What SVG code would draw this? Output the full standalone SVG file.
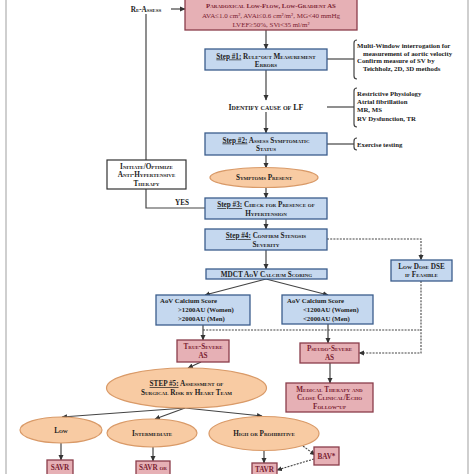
<svg xmlns="http://www.w3.org/2000/svg" width="474" height="474" viewBox="0 0 474 474">
<defs>
<marker id="ah" markerWidth="6" markerHeight="6" refX="5" refY="3" orient="auto" markerUnits="userSpaceOnUse">
<path d="M0,0.5 L5.5,3 L0,5.5 Z" fill="#333"/>
</marker>
<style>
.ln{stroke:#444;stroke-width:1.2;fill:none}
.ds{stroke:#444;stroke-width:1.1;fill:none;stroke-dasharray:2,1.2}
.pink{fill:#e6b0b5;stroke:#8a3d4b;stroke-width:1.3}
.blue{fill:#c5d8ef;stroke:#3b5d8c;stroke-width:1.3}
.wht{fill:#fff;stroke:#333;stroke-width:1.2}
.pe{fill:#f8cba3;stroke:#d99a68;stroke-width:1.2}
text{font-family:"Liberation Serif","Times New Roman",serif;font-weight:bold;fill:#222}
.sc{font-variant:small-caps;font-size:7.2px}
.c{text-anchor:middle}
.u{text-decoration:underline}
.note{font-size:6.8px}
.red{fill:#7a2232}
.reg{font-weight:normal;font-size:7px}
</style>
</defs>
<rect x="6" y="-10" width="462" height="500" fill="#fff" stroke="#cfcfcf" stroke-width="2"/>

<g id="connectors">
<line class="ln" x1="171" y1="9" x2="185" y2="9" marker-end="url(#ah)"/>
<line class="ln" x1="146" y1="14" x2="146" y2="160"/>
<polyline class="ln" points="146,189 146,208 205,208"/>
<line class="ln" x1="266" y1="30" x2="266" y2="49" marker-end="url(#ah)"/>
<line class="ln" x1="266" y1="70" x2="266" y2="100" marker-end="url(#ah)"/>
<line class="ln" x1="266" y1="112" x2="266" y2="133" marker-end="url(#ah)"/>
<line class="ln" x1="327" y1="59" x2="354" y2="59"/>
<line class="ln" x1="327" y1="107" x2="354" y2="107"/>
<line class="ln" x1="327" y1="144" x2="354" y2="144"/>
<path class="ln" d="M357,40 Q354,40 354,43 L354,76 Q354,79 357,79"/>
<path class="ln" d="M357,88 Q354,88 354,91 L354,124 Q354,127 357,127"/>
<path class="ln" d="M357,138 Q354,138 354,141 L354,147 Q354,150 357,150"/>
<line class="ln" x1="266" y1="155" x2="266" y2="168" marker-end="url(#ah)"/>
<line class="ln" x1="266" y1="187" x2="266" y2="198" marker-end="url(#ah)"/>
<line class="ln" x1="266" y1="219" x2="266" y2="229" marker-end="url(#ah)"/>
<line class="ln" x1="266" y1="250" x2="266" y2="269" marker-end="url(#ah)"/>
<line class="ln" x1="266" y1="279" x2="205" y2="295" marker-end="url(#ah)"/>
<line class="ln" x1="266" y1="279" x2="328" y2="295" marker-end="url(#ah)"/>
<line class="ln" x1="203" y1="325" x2="203" y2="340" marker-end="url(#ah)"/>
<line class="ln" x1="328" y1="324" x2="328" y2="343" marker-end="url(#ah)"/>
<line class="ln" x1="330" y1="363" x2="330" y2="383" marker-end="url(#ah)"/>
<line class="ln" x1="201" y1="362" x2="188" y2="368" marker-end="url(#ah)"/>
<line class="ln" x1="185" y1="408" x2="62" y2="417" marker-end="url(#ah)"/>
<line class="ln" x1="185" y1="408" x2="155" y2="419" marker-end="url(#ah)"/>
<line class="ln" x1="185" y1="408" x2="262" y2="416" marker-end="url(#ah)"/>
<line class="ln" x1="61" y1="443" x2="61" y2="460" marker-end="url(#ah)"/>
<line class="ln" x1="153" y1="447" x2="153" y2="461" marker-end="url(#ah)"/>
<line class="ln" x1="264" y1="451" x2="264" y2="463" marker-end="url(#ah)"/>
<polyline class="ds" points="327,239 421,239 421,260" marker-end="url(#ah)"/>
<polyline class="ds" points="421,281 421,353 359,353" marker-end="url(#ah)"/>
<line class="ds" x1="203" y1="330" x2="421" y2="330"/>
<line class="ds" x1="303" y1="446" x2="315" y2="455" marker-end="url(#ah)"/>
<line class="ds" x1="314" y1="459" x2="277" y2="470" marker-end="url(#ah)"/>
</g>

<g id="top">
<rect class="pink" x="185" y="-12" width="172" height="42"/>
<text class="sc c red" x="271" y="7.5" style="font-size:6.8px">Paradoxical Low-Flow, Low-Gradient AS</text>
<text class="reg c red" x="271" y="18">AVA≤1.0 cm², AVAi≤0.6 cm²/m², MG&lt;40 mmHg</text>
<text class="reg c red" x="271" y="26.5">LVEF≥50%, SVi&lt;35 ml/m²</text>
</g>

<g id="reassess"><text class="sc c" x="146" y="11.5">Re-Assess</text></g>

<g id="step1">
<rect class="blue" x="205" y="49" width="122" height="21"/>
<text class="sc c" x="266" y="58.5"><tspan class="u" style="font-variant:normal">Step #1:</tspan> Rule-out Measurement</text>
<text class="sc c" x="266" y="66.5">Errors</text>
</g>

<g id="note1">
<text class="note" x="357" y="48">Multi-Window interrogation for</text>
<text class="note" x="363" y="55.5">measurement of aortic velocity</text>
<text class="note" x="357" y="63">Confirm measure of SV by</text>
<text class="note" x="363" y="70.5">Teichholz, 2D, 3D methods</text>
</g>

<g id="identify"><text class="sc c" x="266" y="109.5" style="font-size:8px">Identify cause of LF</text></g>

<g id="note2">
<text class="note" x="357" y="96">Restrictive Physiology</text>
<text class="note" x="357" y="104">Atrial fibrillation</text>
<text class="note" x="357" y="112">MR, MS</text>
<text class="note" x="357" y="120.5">RV Dysfunction, TR</text>
</g>

<g id="step2">
<rect class="blue" x="205" y="133" width="122" height="22"/>
<text class="sc c" x="266" y="142.5"><tspan class="u" style="font-variant:normal">Step #2:</tspan> Assess Symptomatic</text>
<text class="sc c" x="266" y="151">Status</text>
</g>

<g id="note3"><text class="note" x="357" y="146.5">Exercise testing</text></g>

<g id="symptoms">
<ellipse class="pe" cx="264" cy="177.5" rx="54" ry="10"/>
<text class="sc c" x="264" y="180">Symptoms Present</text>
</g>

<g id="initiate">
<rect class="wht" x="107" y="160" width="79" height="29"/>
<text class="sc c" x="146.5" y="168.5">Initiate/Optimize</text>
<text class="sc c" x="146.5" y="177">Anti-Hypertensive</text>
<text class="sc c" x="146.5" y="185.5">Therapy</text>
</g>

<g id="yes"><text class="sc c" x="182" y="205">YES</text></g>

<g id="step3">
<rect class="blue" x="205" y="198" width="122" height="21"/>
<text class="sc c" x="266" y="207"><tspan class="u" style="font-variant:normal">Step #3:</tspan> Check for Presence of</text>
<text class="sc c" x="266" y="215.5">Hypertension</text>
</g>

<g id="step4">
<rect class="blue" x="205" y="229" width="122" height="21"/>
<text class="sc c" x="266" y="238"><tspan class="u" style="font-variant:normal">Step #4:</tspan> Confirm Stenosis</text>
<text class="sc c" x="266" y="246.5">Severity</text>
</g>

<g id="dse">
<rect class="blue" x="391" y="260" width="61" height="21"/>
<text class="sc c" x="421.5" y="268.5">Low Dose DSE</text>
<text class="sc c" x="421.5" y="277">if Feasible</text>
</g>

<g id="mdct">
<rect class="blue" x="206" y="269" width="121" height="10"/>
<text class="sc c" x="266.5" y="276.8">MDCT AoV Calcium Scoring</text>
</g>

<g id="calcHigh">
<rect class="blue" x="156" y="295" width="94" height="30"/>
<text class="note" x="160" y="303">AoV Calcium Score</text>
<text class="note" x="178" y="312">&gt;1200AU (Women)</text>
<text class="note" x="178" y="320.5">&gt;2000AU (Men)</text>
</g>

<g id="calcLow">
<rect class="blue" x="282" y="295" width="91" height="29"/>
<text class="note" x="287" y="303">AoV Calcium Score</text>
<text class="note" x="303" y="312">&lt;1200AU (Women)</text>
<text class="note" x="303" y="320.5">&lt;2000AU (Men)</text>
</g>

<g id="trueSevere">
<rect class="pink" x="177" y="340" width="52" height="22"/>
<text class="sc c red" x="203" y="348.5">True-Severe</text>
<text class="sc c red" x="203" y="357.5">AS</text>
</g>

<g id="pseudoSevere">
<rect class="pink" x="300" y="343" width="59" height="20"/>
<text class="sc c red" x="329.5" y="351">Pseudo-Severe</text>
<text class="sc c red" x="329.5" y="360">AS</text>
</g>

<g id="medical">
<rect class="pink" x="286" y="383" width="87" height="29"/>
<text class="sc c red" x="329.5" y="391.5">Medical Therapy and</text>
<text class="sc c red" x="329.5" y="400">Close Clinical/Echo</text>
<text class="sc c red" x="329.5" y="408.5">Follow-up</text>
</g>

<g id="step5">
<ellipse class="pe" cx="186.5" cy="388" rx="80" ry="20"/>
<text class="sc c" x="186.5" y="386"><tspan class="u">STEP #5:</tspan> Assessment of</text>
<text class="sc c" x="186.5" y="395">Surgical Risk by Heart Team</text>
</g>

<g id="low">
<ellipse class="pe" cx="61" cy="430" rx="41" ry="13"/>
<text class="sc c" x="61" y="432.5">Low</text>
</g>

<g id="intermediate">
<ellipse class="pe" cx="152" cy="433" rx="45" ry="14"/>
<text class="sc c" x="152" y="435.5">Intermediate</text>
</g>

<g id="high">
<ellipse class="pe" cx="264" cy="433.5" rx="55" ry="17"/>
<text class="sc c" x="264" y="436">High or Prohibitive</text>
</g>

<g id="savr">
<rect class="pink" x="47" y="460" width="26" height="20"/>
<text class="sc c red" x="60" y="469.5">SAVR</text>
</g>

<g id="savrOr">
<rect class="pink" x="136" y="461" width="34" height="20"/>
<text class="sc c red" x="153" y="470">SAVR or</text>
</g>

<g id="tavr">
<rect class="pink" x="252" y="463" width="25" height="20"/>
<text class="sc c red" x="264.5" y="472">TAVR</text>
</g>

<g id="bav">
<rect class="pink" x="314" y="447" width="25" height="18"/>
<text class="sc c red" x="326.5" y="458.5">BAV*</text>
</g>
</svg>
